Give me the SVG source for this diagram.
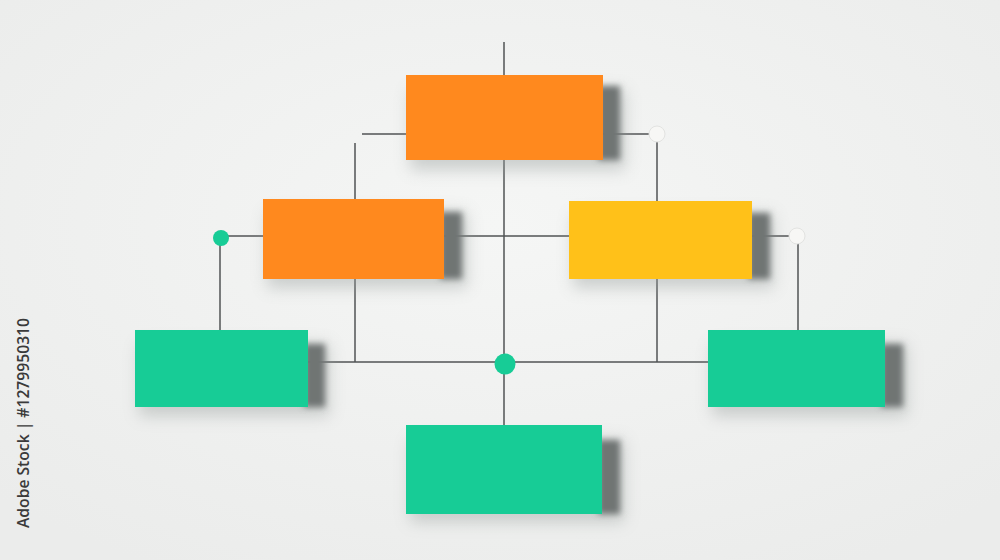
<svg xmlns="http://www.w3.org/2000/svg" width="1000" height="560" viewBox="0 0 1000 560">
<defs>
<filter id="blur" x="-30%" y="-30%" width="160%" height="160%"><feGaussianBlur stdDeviation="3"/></filter>
<filter id="soft" x="-30%" y="-30%" width="160%" height="160%"><feGaussianBlur stdDeviation="8"/></filter>
<radialGradient id="bg" cx="50%" cy="40%" r="70%"><stop offset="0" stop-color="#f5f6f5"/><stop offset="1" stop-color="#ebeceb"/></radialGradient>
</defs>
<style>
.ln{stroke:#505354;stroke-width:1.5;fill:none}
.sh{fill:#6f7473;filter:url(#blur)}
.ss{fill:#9aa09f;opacity:0.45;filter:url(#soft)}
.or{fill:#ff891e}
.ye{fill:#ffc119}
.gr{fill:#17cc96}
.wd{fill:#f7f7f5;stroke:#e2e3e1;stroke-width:1}
.wm{font-family:"Open Sans","DejaVu Sans",sans-serif;font-size:17px;font-weight:600;fill:#3a3a3a}
</style>
<rect width="1000" height="560" fill="url(#bg)"/>
<g id="connectors">
<line class="ln" x1="504" y1="42" x2="504" y2="75"/>
<line class="ln" x1="504" y1="160" x2="504" y2="425"/>
<line class="ln" x1="362" y1="134" x2="406" y2="134"/>
<line class="ln" x1="603" y1="134" x2="657" y2="134"/>
<line class="ln" x1="355" y1="143" x2="355" y2="199"/>
<line class="ln" x1="657" y1="141" x2="657" y2="201"/>
<line class="ln" x1="221" y1="236" x2="263" y2="236"/>
<line class="ln" x1="444" y1="236" x2="569" y2="236"/>
<line class="ln" x1="752" y1="236" x2="797" y2="236"/>
<line class="ln" x1="220" y1="238" x2="220" y2="330"/>
<line class="ln" x1="798" y1="236" x2="798" y2="330"/>
<line class="ln" x1="355" y1="279" x2="355" y2="362"/>
<line class="ln" x1="657" y1="279" x2="657" y2="362"/>
<line class="ln" x1="308" y1="362" x2="708" y2="362"/>
<circle class="wd" cx="657" cy="134" r="8"/>
<circle class="wd" cx="797" cy="236" r="8"/>
<circle cx="221" cy="238" r="8" fill="#17cc96"/>
<circle cx="505" cy="364" r="10.5" fill="#17cc96"/>
</g>
<g id="node-top">
<rect class="ss" x="410" y="90" width="215" height="80"/>
<rect class="sh" x="598" y="86" width="22" height="74"/>
<rect class="or" x="406" y="75" width="197" height="85"/>
</g>
<g id="node-mid-left">
<rect class="ss" x="267" y="212" width="200" height="76"/>
<rect class="sh" x="440" y="212" width="22" height="67"/>
<rect class="or" x="263" y="199" width="181" height="80"/>
</g>
<g id="node-mid-right">
<rect class="ss" x="573" y="214" width="200" height="74"/>
<rect class="sh" x="748" y="213" width="22" height="66"/>
<rect class="ye" x="569" y="201" width="183" height="78"/>
</g>
<g id="node-bottom-left">
<rect class="ss" x="139" y="344" width="190" height="72"/>
<rect class="sh" x="304" y="344" width="21" height="63"/>
<rect class="gr" x="135" y="330" width="173" height="77"/>
</g>
<g id="node-bottom-right">
<rect class="ss" x="712" y="344" width="195" height="72"/>
<rect class="sh" x="881" y="344" width="22" height="63"/>
<rect class="gr" x="708" y="330" width="177" height="77"/>
</g>
<g id="node-bottom">
<rect class="ss" x="410" y="440" width="214" height="82"/>
<rect class="sh" x="598" y="440" width="22" height="74"/>
<rect class="gr" x="406" y="425" width="196" height="89"/>
</g>
<text class="wm" transform="translate(29,528) rotate(-90)" textLength="210" lengthAdjust="spacingAndGlyphs">Adobe Stock | #1279950310</text>
</svg>
